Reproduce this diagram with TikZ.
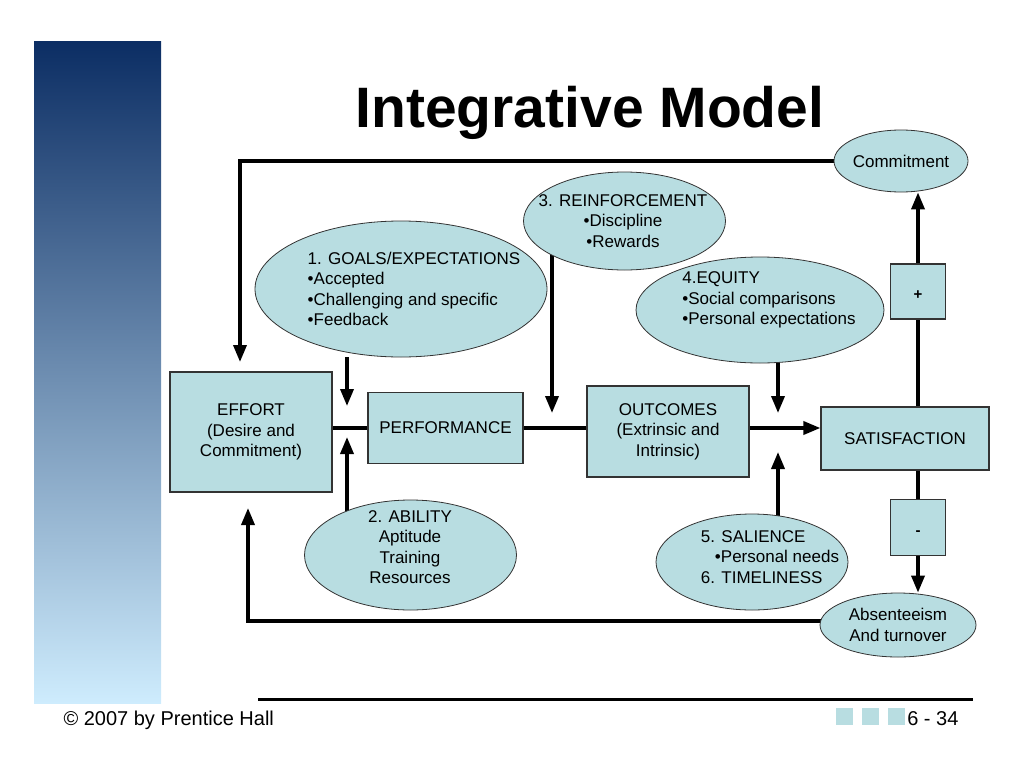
\documentclass[tikz,border=0pt]{standalone}
\usepackage{fontspec}
\setmainfont{Liberation Sans}
\usetikzlibrary{arrows.meta,shapes.geometric,backgrounds}
\definecolor{boxfill}{RGB}{184,221,225}
\definecolor{sidetop}{RGB}{12,46,100}
\definecolor{sidemid}{RGB}{122,152,188}
\definecolor{sidebot}{RGB}{206,236,253}
\newcommand\lbl{\fontsize{17}{20.5}\selectfont}
\tikzset{box/.style={draw=black!80, line width=1.2pt, fill=boxfill,
    inner sep=0pt, align=center, font=\lbl},
  signbox/.style={box, minimum width=55pt, minimum height=55pt,
    text height=15pt, text depth=0pt, font=\fontsize{15}{18}\selectfont\bfseries},
  oval/.style={ellipse, draw=black!80, line width=0.8pt, fill=boxfill,
    inner sep=0pt},
  txt/.style={align=left, font=\lbl, inner sep=0pt},
  flow/.style={line width=3.5pt}}

\begin{document}
\begin{tikzpicture}[x=1pt, y=-1pt, >={Triangle[length=17pt,width=13pt]}]
      \useasboundingbox (0,0) rectangle (1024,768);
      \shade [top color=sidetop, middle color=sidemid, bottom color=sidebot]
        (34,42) rectangle (161,703);
      \node [anchor=base, font=\fontsize{57}{60}\selectfont\bfseries] (title)
        at (590,127) {Integrative Model};

      \node [box, minimum width=162pt, minimum height=120pt] (effort)
        at (251,432) {EFFORT\\(Desire and\\Commitment)};
      \node [box, minimum width=155pt, minimum height=71pt] (perf)
        at (445.5,428) {PERFORMANCE};
      \node [box, minimum width=162pt, minimum height=91pt] (outcomes)
        at (668,431.5) {OUTCOMES\\(Extrinsic and\\Intrinsic)};
      \node [box, minimum width=168pt, minimum height=63pt] (sat)
        at (905,438.5) {SATISFACTION};
      \node [signbox] (plus) at (918,291.5) {+};
      \node [signbox, minimum height=56pt] (minus) at (918,527.5) {-};

      \node [oval, minimum width=134pt, minimum height=62pt] (commit)
        at (901,161) {};
      \node [txt] at (commit) {Commitment};
      \node [oval, minimum width=202pt, minimum height=98pt] (reinf)
        at (624.5,221) {};
      \node [txt, align=center] at (623,221) {3. REINFORCEMENT\\•Discipline\\•Rewards};
      \node [oval, minimum width=292pt, minimum height=136pt] (goals)
        at (401,289) {};
      \node [txt] at (414,289) {1. GOALS/EXPECTATIONS\\•Accepted\\•Challenging and specific\\•Feedback};
      \node [oval, minimum width=248pt, minimum height=106pt] (equity)
        at (760,310) {};
      \node [txt] at (769,300) {4.EQUITY\\•Social comparisons\\•Personal expectations};
      \node [oval, minimum width=212pt, minimum height=110pt] (ability)
        at (410.5,555) {};
      \node [txt, align=center] at (410,547) {2. ABILITY\\Aptitude\\Training\\Resources};
      \node [oval, minimum width=192pt, minimum height=96pt] (salience)
        at (752,562) {};
      \node [txt] at (770,557) {5. SALIENCE\\\hspace{14pt}•Personal needs\\6. TIMELINESS};
      \node [oval, minimum width=156pt, minimum height=64pt] (absent)
        at (898,625) {};
      \node [txt, align=center] at (absent) {Absenteeism\\And turnover};

      \coordinate (topend) at (240,362);
      \coordinate (botend) at (248,508);
      \coordinate (goalsin) at (347,406);
      \coordinate (abilityin) at (347,437);
      \coordinate (reinfin) at (552,413);
      \coordinate (equityin) at (778,413);
      \coordinate (saliencein) at (778,452);

      \begin{scope}[on background layer]
      \draw [flow, ->] (commit.west) -| (topend);
      \draw [flow, ->] ([yshift=4pt]absent.center) -| (botend);
      \draw [flow] (effort.east |- perf.west) -- (perf.west);
      \draw [flow] (perf.east) -- (perf.east -| outcomes.west);
      \draw [flow, ->] (perf.east -| outcomes.east) -- (perf.east -| sat.west);
      \draw [flow, ->] (goalsin |- goals.south) -- (goalsin);
      \draw [flow, ->] (abilityin |- ability.center) -- (abilityin);
      \draw [flow, ->] (reinfin |- reinf.center) -- (reinfin);
      \draw [flow, ->] (equityin |- equity.center) -- (equityin);
      \draw [flow, ->] (saliencein |- salience.center) -- (saliencein);
      \draw [flow] (plus.south) -- (plus.south |- sat.north);
      \draw [flow, ->] (plus.north) -- (plus.north |- commit.south);
      \draw [flow] (minus.north |- sat.south) -- (minus.north);
      \draw [flow, ->] (minus.south) -- (minus.south |- absent.north);
      \end{scope}

      \draw [line width=3pt] (258,699) -- (973,699);
      \node [anchor=base west, font=\fontsize{20}{24}\selectfont] (copy)
        at (60,725) {© 2007 by Prentice Hall};
      \foreach \x in {836,862,888}
        \fill [boxfill] (\x,708) rectangle ++(17,17);
      \node [anchor=base east, font=\fontsize{20}{24}\selectfont] (page)
        at (962,725) {6 - 34};
    \end{tikzpicture}
\end{document}
